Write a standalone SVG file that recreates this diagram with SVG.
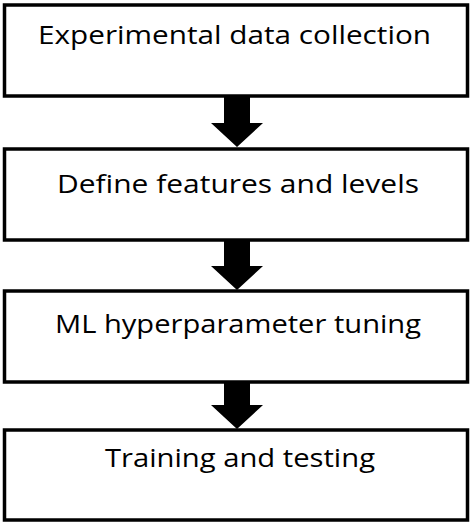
<svg xmlns="http://www.w3.org/2000/svg" width="474" height="526" viewBox="0 0 474 526">
<style>
.box{fill:#fff;stroke:#000;stroke-width:3.5}
.t{font-family:"Open Sans","Noto Sans",sans-serif;font-size:26px;fill:#000}
.arr{fill:#000}
</style>
<rect width="474" height="526" fill="#fff"/>
<g id="connectors">
<polygon class="arr" points="224,96 250,96 250,123 263,123 237,147 211,123 224,123"/>
<polygon class="arr" points="224,240 250,240 250,266 263,266 237,290 211,266 224,266"/>
<polygon class="arr" points="224,382 250,382 250,405 263,405 237,429 211,405 224,405"/>
</g>
<g id="n1"><rect class="box" x="4.5" y="5" width="463" height="91"/><text class="t" x="38" y="44" textLength="393" lengthAdjust="spacingAndGlyphs">Experimental data collection</text></g>
<g id="n2"><rect class="box" x="4.5" y="149" width="463" height="91"/><text class="t" x="57" y="193" textLength="362" lengthAdjust="spacingAndGlyphs">Define features and levels</text></g>
<g id="n3"><rect class="box" x="4.5" y="291" width="463" height="91"/><text class="t" x="55" y="333" textLength="366" lengthAdjust="spacingAndGlyphs">ML hyperparameter tuning</text></g>
<g id="n4"><rect class="box" x="4.5" y="430" width="463" height="90"/><text class="t" x="105" y="467" textLength="270" lengthAdjust="spacingAndGlyphs">Training and testing</text></g>
</svg>
